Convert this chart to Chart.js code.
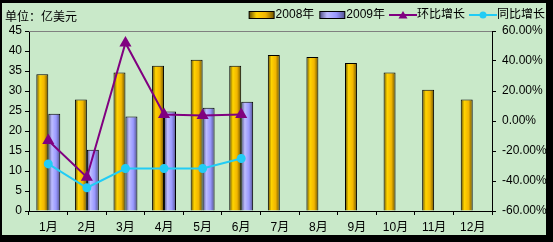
<!DOCTYPE html>
<html>
<head>
<meta charset="utf-8">
<script src="https://cdn.jsdelivr.net/npm/chart.js@4/dist/chart.umd.min.js"></script>
<style>
  body { margin: 0; background: #000; width: 553px; height: 242px; overflow: hidden; }
  #wrap { position: absolute; left: 2px; top: 3px; width: 544px; height: 232px; background: #C9E9C9; }
  #unit { position: absolute; left: 3px; top: 4px; font: 12px "Liberation Sans", "Noto Sans CJK SC", sans-serif; color: #000; }
</style>
</head>
<body>
<div id="wrap">
  <canvas id="chart1"></canvas>
  <div id="unit">单位：亿美元</div>
</div>
<script>
var months = ['1月', '2月', '3月', '4月', '5月', '6月', '7月', '8月', '9月', '10月', '11月', '12月'];
var exports2008 = [34.2, 27.9, 34.6, 36.3, 37.8, 36.3, 39.0, 38.5, 37.0, 34.6, 30.3, 27.9];
var exports2009 = [24.3, 15.3, 23.6, 24.9, 25.8, 27.3];
var momGrowth = [-13.0, -37.5, 52.0, 4.3, 3.7, 4.3];
var yoyGrowth = [-28.6, -44.5, -31.7, -31.7, -31.7, -25.0];
var leftRange = [0, 45, 5];
var rightRange = [-60, 60, 20];

var font = '"Liberation Sans", "Noto Sans CJK SC", sans-serif';
var colors = {
    gold: ['#5C4800', '#FFD400', '#F2B600', '#6A5200'],
    lavender: ['#4A4A80', '#BDBDFF', '#9999FF', '#50508C'],
    purple: '#800080',
    cyan: '#22CCF5'
};

function barGradient(ctx, x0, x1, stops) {
    var g = ctx.createLinearGradient(x0, 0, x1, 0);
    g.addColorStop(0, stops[0]);
    g.addColorStop(0.3, stops[1]);
    g.addColorStop(0.65, stops[2]);
    g.addColorStop(1, stops[3]);
    return g;
}

// little pictures for the legend (drawn in the right part of a 37px wide image)
function legendBar(stops) {
    var c = document.createElement('canvas');
    c.width = 37; c.height = 8;
    var x = c.getContext('2d');
    x.fillStyle = barGradient(x, 10, 36, stops);
    x.fillRect(10, 0, 26, 8);
    x.strokeStyle = '#000';
    x.strokeRect(10.5, 0.5, 25, 7);
    return c;
}
function legendLine(color, marker) {
    var c = document.createElement('canvas');
    c.width = 37; c.height = 10;
    var x = c.getContext('2d');
    x.strokeStyle = color;
    x.lineWidth = 2;
    x.beginPath(); x.moveTo(9, 5); x.lineTo(37, 5); x.stroke();
    x.fillStyle = color;
    x.beginPath();
    if (marker === 'triangle') {
        x.moveTo(23, 1); x.lineTo(27.5, 8.5); x.lineTo(18.5, 8.5);
    } else {
        x.arc(23, 5, 3.5, 0, Math.PI * 2);
    }
    x.fill();
    return c;
}

var shading = {
    id: 'shading',
    beforeDatasetDraw: function(chart, args) {
        var meta = args.meta;
        if (meta.type !== 'bar') return;
        var stops = meta.index === 0 ? colors.gold : colors.lavender;
        meta.data.forEach(function(el) {
            var p = el.getProps(['x', 'width'], true);
            var g = barGradient(chart.ctx, p.x - p.width / 2, p.x + p.width / 2, stops);
            el.options = Object.assign({}, el.options, {backgroundColor: g});
        });
    },
    afterDraw: function(chart) {
        var a = chart.chartArea, c = chart.ctx;
        c.save();
        c.strokeStyle = '#808080';
        c.lineWidth = 1;
        c.beginPath();
        c.moveTo(a.left, a.top + 0.5);
        c.lineTo(a.right, a.top + 0.5);
        c.stroke();
        c.restore();
    }
};

var legendPics = [legendBar(colors.gold), legendBar(colors.lavender),
                  legendLine(colors.purple, 'triangle'), legendLine(colors.cyan, 'circle')];

var ctx1 = document.getElementById('chart1');
var chart1 = new Chart(ctx1.getContext('2d'), {
    type: 'bar',
    data: {
        labels: months,
        datasets: [{
            label: '2008年',
            data: exports2008,
            backgroundColor: colors.gold[2],
            borderColor: '#000',
            borderWidth: 1,
            yAxisID: 'y',
            order: 1
            },
            {
            label: '2009年',
            data: exports2009,
            backgroundColor: colors.lavender[2],
            borderColor: '#000',
            borderWidth: 1,
            yAxisID: 'y',
            order: 1
            },
            {
            type: 'line',
            label: '环比增长',
            data: momGrowth,
            borderColor: colors.purple,
            backgroundColor: colors.purple,
            borderWidth: 2,
            pointStyle: 'triangle',
            pointRadius: 5,
            fill: false,
            yAxisID: 'y1',
            order: 0
            },
            {
            type: 'line',
            label: '同比增长',
            data: yoyGrowth,
            borderColor: colors.cyan,
            backgroundColor: colors.cyan,
            borderWidth: 2,
            pointStyle: 'circle',
            pointRadius: 3.5,
            fill: false,
            yAxisID: 'y1',
            order: 0
            }]
    },
    options: {
        responsive: true,
        maintainAspectRatio: false,
        animation: false,
        layout: { padding: { top: 5, right: 0, left: 0, bottom: 0 } },
        datasets: { bar: { barPercentage: 1.0, categoryPercentage: 0.62 } },
        plugins: {
            tooltip: { enabled: false },
            legend: {
                position: 'top',
                align: 'end',
                labels: {
                    usePointStyle: true,
                    pointStyleWidth: 25,
                    boxHeight: 10,
                    padding: 1,
                    color: '#000',
                    font: { family: font, size: 12 },
                    generateLabels: function(chart) {
                        return chart.data.datasets.map(function(ds, i) {
                            return { text: ds.label, pointStyle: legendPics[i], datasetIndex: i,
                                     fontColor: '#000', lineWidth: 0, strokeStyle: 'transparent', fillStyle: 'transparent' };
                        });
                    }
                }
            }
        },
        scales: {
            x: {
                grid: { drawOnChartArea: false, color: '#000', tickLength: 4, offset: true },
                border: { color: '#000' },
                ticks: { color: '#000', font: { family: font, size: 12 }, maxRotation: 0, padding: 5 },
                afterFit: function(s) { s.height = 24; }
            },
            y: {
                position: 'left',
                min: leftRange[0], max: leftRange[1],
                ticks: { stepSize: leftRange[2], color: '#000', font: { family: font, size: 12 }, padding: 3 },
                grid: { drawOnChartArea: false, color: '#000', tickLength: 4 },
                border: { color: '#000' },
                afterFit: function(s) { s.width = 27; }
            },
            y1: {
                position: 'right',
                min: rightRange[0], max: rightRange[1],
                ticks: {
                    stepSize: rightRange[2], color: '#000', font: { family: font, size: 12 }, padding: 6,
                    callback: function(v) { return v.toFixed(2) + '%'; }
                },
                grid: { drawOnChartArea: false, color: '#000', tickLength: 4 },
                border: { color: '#000' },
                afterFit: function(s) { s.width = 54; }
            }
        }
    },
    plugins: [shading]
});
</script>
</body>
</html>
